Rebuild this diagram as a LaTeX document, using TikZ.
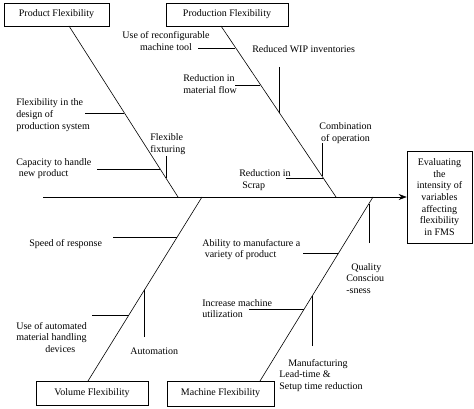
\documentclass[tikz,border=0pt]{standalone}
\usepackage{fontspec}
\setmainfont{Liberation Serif}
\usetikzlibrary{arrows.meta}
\begin{document}
\begin{tikzpicture}[x=1pt,y=-1pt,
  line width=0.6pt,
  every node/.style={font=\fontsize{10}{11.7}\selectfont, inner sep=0pt},
  catbox/.style={draw, line width=0.6pt, minimum width=#1, minimum height=23pt},
  lbl/.style={anchor=base west, align=left},
  lblc/.style={anchor=base, align=center},
  bone/.style={draw, line width=0.6pt},
  twig/.style={draw, line width=0.6pt}]
\useasboundingbox (0,0) rectangle (474,409);
% category boxes
\node[catbox=105pt] (pf) at (56.5,14.5) {Product Flexibility};
\node[catbox=122pt] (prf) at (227,14.5) {Production Flexibility};
\node[catbox=112pt, minimum height=24pt] (vf) at (92,393) {Volume Flexibility};
\node[catbox=107pt, minimum height=25pt] (mf) at (220.5,393.5) {Machine Flexibility};
\node[draw, minimum width=65pt, minimum height=92pt, align=center] (ev) at (439.5,197)
  {Evaluating\\the\\intensity of\\variables\\affecting\\flexibility\\in FMS};
% spine
\coordinate (s0) at (43,197);
\coordinate (j1) at (178,197);
\coordinate (j2) at (336,197);
\coordinate (j3) at (202,197);
\coordinate (j4) at (373,197);
\draw[-{Stealth[length=8pt,width=6pt]}] (s0) -- (ev.west);
% bone start points
\coordinate (b1) at (69,26);
\coordinate (b2) at (221,26);
\coordinate (b3) at (88,381);
\coordinate (b4) at (260,381);
\draw[bone] (b1) -- (j1);
\draw[bone] (b2) -- (j2);
\draw[bone] (b3) -- (j3);
\draw[bone] (b4) -- (j4);
% Product flexibility twigs (node y = baseline of last line)
\node[lbl] (t1) at (16,129.4) {Flexibility in the\\design of\\production system};
\coordinate (a1) at (85,113); \coordinate (c1) at (124.3,113);
\draw[twig] (a1) -- (c1);
\node[lbl] (t2) at (16,176.7) {Capacity to handle\\\ new product};
\coordinate (a2) at (97,169); \coordinate (c2) at (160.4,169);
\draw[twig] (a2) -- (c2);
\node[lbl] (t3) at (150,152.7) {Flexible\\fixturing};
\coordinate (a3) at (166,156); \coordinate (c3) at (166,178.3);
\draw[twig] (a3) -- (c3);
% Production flexibility twigs
\node[lblc] (t4) at (166,50.7) {Use of reconfigurable\\machine tool};
\coordinate (a4) at (198,48); \coordinate (c4) at (235.2,48);
\draw[twig] (a4) -- (c4);
\node[lbl] (t5) at (252,53) {Reduced WIP inventories};
\coordinate (a5) at (279,67); \coordinate (c5) at (279,112.7);
\draw[twig] (a5) -- (c5);
\node[lbl] (t6) at (183,93.7) {Reduction in\\material flow};
\coordinate (a6) at (235,85); \coordinate (c6) at (260.2,85);
\draw[twig] (a6) -- (c6);
\node[lblc] (t7) at (345.5,141.7) {Combination\\of operation};
\coordinate (a7) at (322,143); \coordinate (c7) at (322,176.3);
\draw[twig] (a7) -- (c7);
\node[lbl] (t8) at (239,188.7) {Reduction in\\\hspace*{3pt}Scrap};
\coordinate (a8) at (286,178); \coordinate (c8) at (323.2,178);
\draw[twig] (a8) -- (c8);
% Volume flexibility twigs
\node[lbl] (t9) at (29,246) {Speed of response};
\coordinate (a9) at (113,237); \coordinate (c9) at (177.1,237);
\draw[twig] (a9) -- (c9);
\node[lbl] (t10) at (16,352.4) {Use of automated\\material handling\\\hspace*{29pt}devices};
\coordinate (a10) at (92,315); \coordinate (c10) at (128.5,315);
\draw[twig] (a10) -- (c10);
\node[lbl] (t11) at (130,354) {Automation};
\coordinate (a11) at (144,337); \coordinate (c11) at (144,290.1);
\draw[twig] (a11) -- (c11);
% Machine flexibility twigs
\node[lbl] (t12) at (202,257.7) {Ability to manufacture a\\\ variety of product};
\coordinate (a12) at (303,253); \coordinate (c12) at (338.4,253);
\draw[twig] (a12) -- (c12);
\node[lbl] (t13) at (346,293.4) {\hspace*{5pt}Quality\\Consciou\\-sness};
\coordinate (a13) at (369,243); \coordinate (c13) at (369,203.5);
\draw[twig] (a13) -- (c13);
\node[lbl] (t14) at (202,317.7) {Increase machine\\utilization};
\coordinate (a14) at (249,309); \coordinate (c14) at (303.8,309);
\draw[twig] (a14) -- (c14);
\node[lbl] (t15) at (279,389.4) {\hspace*{9pt}Manufacturing\\Lead-time \&\\Setup time reduction};
\coordinate (a15) at (312,346); \coordinate (c15) at (312,295.8);
\draw[twig] (a15) -- (c15);
\end{tikzpicture}
\end{document}
